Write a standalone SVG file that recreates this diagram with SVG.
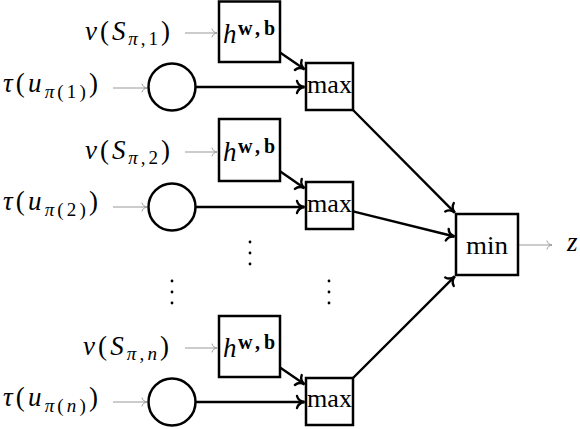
<svg xmlns="http://www.w3.org/2000/svg" width="580" height="429" viewBox="0 0 580 429">
<style>
.box{fill:#fff;stroke:#000;stroke-width:2.5}
.k{fill:none;stroke:#000;stroke-width:2.4}
.g{fill:none;stroke:#999;stroke-width:1}
</style>
<defs>
<marker id="ah" markerUnits="userSpaceOnUse" viewBox="-9 -7 11 14" refX="0" refY="0" markerWidth="11" markerHeight="14" orient="auto" overflow="visible">
<path d="M-7.5,-6 C-6.5,-2.2 -3.5,-0.5 0,0 C-3.5,0.5 -6.5,2.2 -7.5,6" fill="none" stroke="#000" stroke-width="2.4" stroke-linecap="round"/>
</marker>
<marker id="ag" markerUnits="userSpaceOnUse" viewBox="-7 -5 8 10" refX="0" refY="0" markerWidth="8" markerHeight="10" orient="auto" overflow="visible">
<path d="M-5,-4 C-4.2,-1.5 -2.3,-0.3 0,0 C-2.3,0.3 -4.2,1.5 -5,4" fill="none" stroke="#999" stroke-width="1" stroke-linecap="round"/>
</marker>
</defs>

<g id="labels" font-family="Liberation Serif" font-size="27">
<text x="85" y="40" textLength="85" lengthAdjust="spacing"><tspan font-style="italic">ν</tspan>(<tspan font-style="italic">S</tspan><tspan font-size="19" dy="5"><tspan font-style="italic">π</tspan>,1</tspan><tspan dy="-5">)</tspan></text>
<text x="3" y="92" textLength="95" lengthAdjust="spacing"><tspan font-style="italic">τ</tspan>(<tspan font-style="italic">u</tspan><tspan font-size="19" dy="6"><tspan font-style="italic">π</tspan>(1)</tspan><tspan dy="-6">)</tspan></text>
<text x="85" y="159" textLength="85" lengthAdjust="spacing"><tspan font-style="italic">ν</tspan>(<tspan font-style="italic">S</tspan><tspan font-size="19" dy="5"><tspan font-style="italic">π</tspan>,2</tspan><tspan dy="-5">)</tspan></text>
<text x="3" y="210" textLength="95" lengthAdjust="spacing"><tspan font-style="italic">τ</tspan>(<tspan font-style="italic">u</tspan><tspan font-size="19" dy="6"><tspan font-style="italic">π</tspan>(2)</tspan><tspan dy="-6">)</tspan></text>
<text x="83" y="355" textLength="86" lengthAdjust="spacing"><tspan font-style="italic">ν</tspan>(<tspan font-style="italic">S</tspan><tspan font-size="19" dy="5"><tspan font-style="italic">π</tspan>,<tspan font-style="italic">n</tspan></tspan><tspan dy="-5">)</tspan></text>
<text x="3" y="406" textLength="95" lengthAdjust="spacing"><tspan font-style="italic">τ</tspan>(<tspan font-style="italic">u</tspan><tspan font-size="19" dy="6"><tspan font-style="italic">π</tspan>(<tspan font-style="italic">n</tspan>)</tspan><tspan dy="-6">)</tspan></text>
<text x="567" y="251" font-style="italic">z</text>
</g>

<g id="connectors">
<line class="g" x1="185" y1="33" x2="217" y2="33" marker-end="url(#ag)"/>
<line class="g" x1="185" y1="152" x2="217" y2="152" marker-end="url(#ag)"/>
<line class="g" x1="185" y1="348" x2="217" y2="348" marker-end="url(#ag)"/>
<line class="g" x1="113" y1="88" x2="147" y2="88" marker-end="url(#ag)"/>
<line class="g" x1="113" y1="207" x2="147" y2="207" marker-end="url(#ag)"/>
<line class="g" x1="113" y1="402" x2="147" y2="402" marker-end="url(#ag)"/>
<line class="g" x1="519" y1="245" x2="552" y2="245" marker-end="url(#ag)"/>
<line class="k" x1="280" y1="52.5" x2="304.5" y2="69.3" marker-end="url(#ah)"/>
<line class="k" x1="280" y1="171.2" x2="304.5" y2="188.2" marker-end="url(#ah)"/>
<line class="k" x1="280" y1="367.5" x2="304.5" y2="384.3" marker-end="url(#ah)"/>
<line class="k" x1="195.5" y1="87" x2="304.5" y2="87" marker-end="url(#ah)"/>
<line class="k" x1="195.5" y1="207" x2="304.5" y2="207" marker-end="url(#ah)"/>
<line class="k" x1="195.5" y1="402" x2="304.5" y2="402" marker-end="url(#ah)"/>
<line class="k" x1="353" y1="110" x2="454.8" y2="212.6" marker-end="url(#ah)"/>
<line class="k" x1="353" y1="211.3" x2="454.5" y2="236.5" marker-end="url(#ah)"/>
<line class="k" x1="353" y1="378" x2="454.8" y2="276.4" marker-end="url(#ah)"/>
</g>

<g id="h1" font-family="Liberation Serif"><rect class="box" x="219" y="1.5" width="61" height="60.5"/><text font-size="27" font-style="italic" x="223" y="43">h</text><text font-size="20" font-weight="bold" x="238" y="35" textLength="37" lengthAdjust="spacing">w,b</text></g>
<g id="h2" font-family="Liberation Serif"><rect class="box" x="219" y="119" width="61" height="62"/><text font-size="27" font-style="italic" x="223" y="161">h</text><text font-size="20" font-weight="bold" x="238" y="153" textLength="37" lengthAdjust="spacing">w,b</text></g>
<g id="h3" font-family="Liberation Serif"><rect class="box" x="219" y="316" width="61" height="61"/><text font-size="27" font-style="italic" x="223" y="357">h</text><text font-size="20" font-weight="bold" x="238" y="349" textLength="37" lengthAdjust="spacing">w,b</text></g>

<g id="c1"><circle class="box" cx="172" cy="87" r="23.5"/></g>
<g id="c2"><circle class="box" cx="172" cy="207" r="23.5"/></g>
<g id="c3"><circle class="box" cx="172" cy="402" r="23.5"/></g>

<g id="max1" font-family="Liberation Serif" font-size="26"><rect class="box" x="306" y="63" width="47" height="47"/><text x="307" y="93" textLength="45" lengthAdjust="spacingAndGlyphs">max</text></g>
<g id="max2" font-family="Liberation Serif" font-size="26"><rect class="box" x="306" y="182" width="47" height="47"/><text x="307" y="212" textLength="45" lengthAdjust="spacingAndGlyphs">max</text></g>
<g id="max3" font-family="Liberation Serif" font-size="26"><rect class="box" x="306" y="378" width="47" height="47"/><text x="307" y="407" textLength="45" lengthAdjust="spacingAndGlyphs">max</text></g>

<g id="min" font-family="Liberation Serif" font-size="26"><rect class="box" x="456" y="214" width="62" height="61"/><text x="466" y="254" textLength="42" lengthAdjust="spacingAndGlyphs">min</text></g>

<g id="dots" fill="#000">
<circle cx="250" cy="242" r="1.4"/><circle cx="250" cy="253" r="1.4"/><circle cx="250" cy="264" r="1.4"/>
<circle cx="172" cy="281" r="1.4"/><circle cx="172" cy="292" r="1.4"/><circle cx="172" cy="303" r="1.4"/>
<circle cx="329" cy="281" r="1.4"/><circle cx="329" cy="292" r="1.4"/><circle cx="329" cy="303" r="1.4"/>
</g>
</svg>
